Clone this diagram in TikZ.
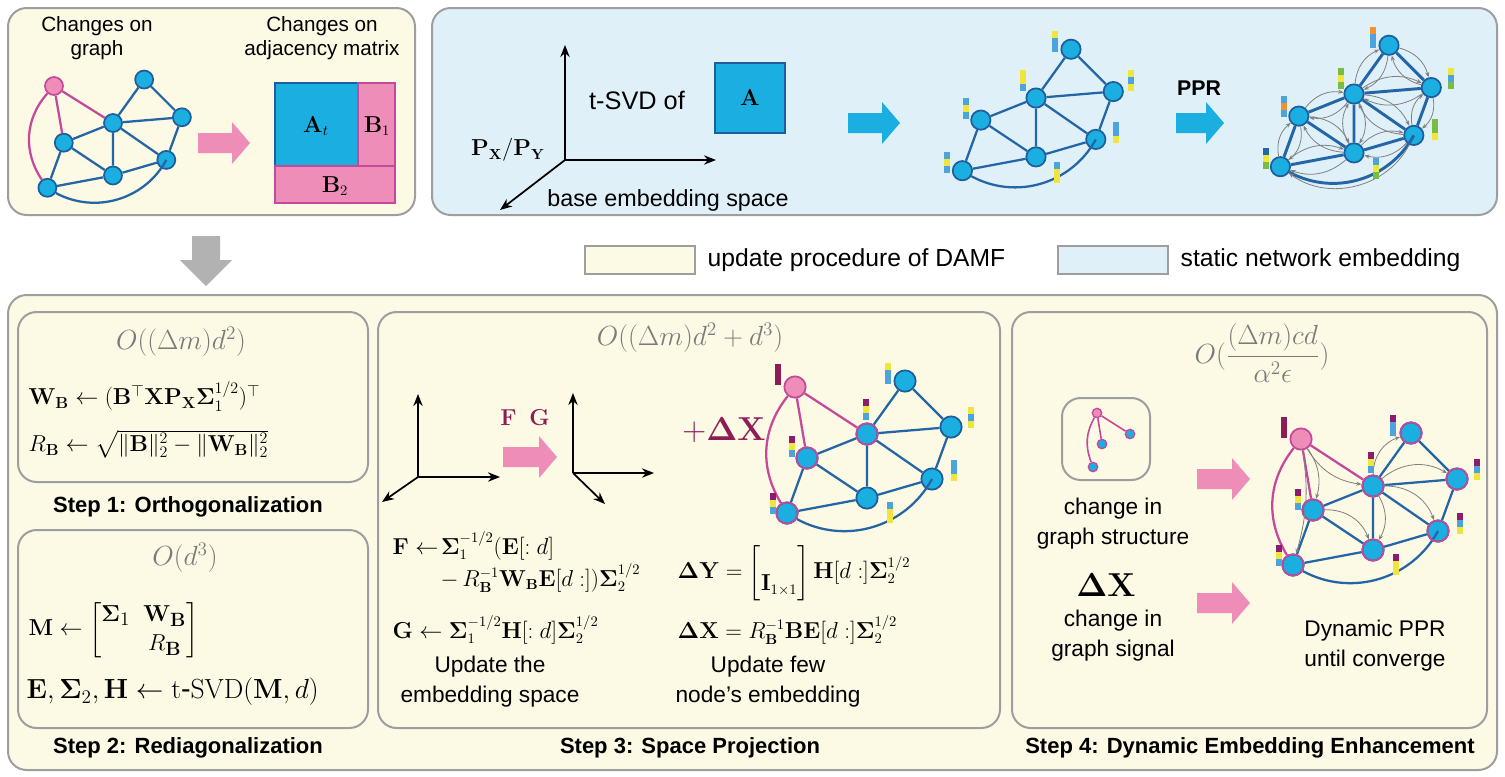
\documentclass[tikz,border=0pt]{standalone}
\usepackage{amsmath}
\usepackage[no-math]{fontspec}
\setmainfont{Liberation Sans}
\usetikzlibrary{arrows.meta}
\definecolor{ybg}{HTML}{FCF9E4}
\definecolor{bbg}{HTML}{DFF0F9}
\definecolor{bord}{HTML}{9E9E9E}
\definecolor{nodef}{HTML}{1BAEE0}
\definecolor{nodeb}{HTML}{1E5E9C}
\definecolor{edgeb}{HTML}{2465A6}
\definecolor{pinkf}{HTML}{EE8DB8}
\definecolor{pinke}{HTML}{C5499A}
\definecolor{maroon}{HTML}{8C1D57}
\definecolor{Y}{HTML}{F1E43A}
\definecolor{B}{HTML}{4DA3DC}
\definecolor{O}{HTML}{F0922E}
\definecolor{G}{HTML}{79BC43}
\definecolor{D}{HTML}{1F67A8}
\definecolor{P}{HTML}{8C1D6E}
\definecolor{M}{HTML}{8C1D57}
\definecolor{cgray}{HTML}{7A7A7A}
\def\gsize{15pt}
\tikzset{
 panel/.style={draw=bord,line width=1.5pt,rounded corners=14pt},
 gn/.style={circle,draw=nodeb,fill=nodef,line width=1.3pt,inner sep=0pt,minimum size=\gsize},
 pn/.style={circle,draw=pinke,fill=pinkf,line width=1.3pt,inner sep=0pt,minimum size=\gsize},
 ring/.style={circle,draw=pinke,line width=1.3pt,inner sep=0pt,minimum size=\gsize},
 ge/.style={draw=edgeb,line width=1.7pt},
 pe/.style={draw=pinke,line width=1.7pt},
 ga/.style={draw=gray,line width=0.6pt,-{Stealth[length=4pt,width=3pt]}},
 ax/.style={line width=1.3pt,-{Stealth[length=9pt,width=7pt]}},
 sf/.style={font=\fontsize{15.5}{18}\selectfont,align=center},
 lf/.style={font=\fontsize{17}{22.5}\selectfont,align=center},
 stp/.style={font=\bfseries\fontsize{16.5}{19}\selectfont},
 cx/.style={text=cgray,font=\fontsize{20}{24}\selectfont},
 basegraph/.pic={
  \node[gn] (-top) at (38,-53) {};
  \node[gn] (-right) at (84,-7) {};
  \node[gn] (-hub) at (0,0) {};
  \node[gn] (-left) at (-60,24) {};
  \node[gn] (-rl) at (65,45) {};
  \node[gn] (-bm) at (0,64) {};
  \node[gn] (-bl) at (-80,79) {};
  \draw[ge] (-top)--(-hub) (-top)--(-right) (-hub)--(-right) (-hub)--(-left)
   (-hub)--(-bm) (-hub)--(-rl) (-right)--(-rl) (-left)--(-bm) (-left)--(-bl)
   (-bm)--(-bl) (-bm)--(-rl);
  \draw[ge] (-bl) to[bend right=45] (-rl);
 }
}
\newcommand\ebar[4]{\fill[#2] #1 rectangle ++(6,7);\fill[#3] #1 ++(0,7) rectangle ++(6,7);\fill[#4] #1 ++(0,14) rectangle ++(6,7);}
\newcommand\blockarr[4]{\fill[#4] (#1,#3-10) -- (#2-18,#3-10) -- (#2-18,#3-21) -- (#2,#3) -- (#2-18,#3+21) -- (#2-18,#3+10) -- (#1,#3+10) -- cycle;}
\begin{document}
\begin{tikzpicture}[x=0.75pt,y=-0.75pt]
\useasboundingbox (0,0) rectangle (1505,776);
% panels
\draw[panel,fill=ybg] (8,8) rectangle (415,215);
\draw[panel,fill=bbg] (432,8) rectangle (1497,215);
\draw[panel,fill=ybg] (8,295) rectangle (1497,770);
\draw[panel,fill=ybg] (18,312) rectangle (368,482);
\draw[panel,fill=ybg] (18,530) rectangle (368,728);
\draw[panel,fill=ybg] (378,312) rectangle (1000,728);
\draw[panel,fill=ybg] (1012,312) rectangle (1487,728);
% legend
\draw[bord,line width=1.5pt,fill=ybg] (585,246) rectangle (695,274);
\node[anchor=west,font=\fontsize{18.5}{21}\selectfont] (lg1) at (703,260) {update procedure of DAMF};
\draw[bord,line width=1.5pt,fill=bbg] (1058,246) rectangle (1168,274);
\node[anchor=west,font=\fontsize{18.5}{21}\selectfont] (lg2) at (1176,260) {static network embedding};
% gray down arrow
\fill[gray!60] (192,236) -- (220,236) -- (220,260) -- (232,260) -- (206,286) -- (180,260) -- (192,260) -- cycle;

% ---------- top-left
\node[sf] (t1) at (97,38) {Changes on\\graph};
\node[sf] (t2) at (322,38) {Changes on\\adjacency matrix};
\def\gsize{13.5pt}
\pic[scale=0.82] (ga) at (113,123) {basegraph};
\node[pn] (ga-pink) at (54,86) {};
\draw[pe] (ga-pink)--(ga-hub) (ga-pink)--(ga-left);
\draw[pe] (ga-pink) to[bend right=38] (ga-bl);
\blockarr{198}{250}{143}{pinkf}
\draw[nodeb,line width=1pt,fill=nodef] (275,83) rectangle (358,166);
\draw[pinke,line width=1pt,fill=pinkf] (358,83) rectangle (395,166);
\draw[pinke,line width=1pt,fill=pinkf] (275,166) rectangle (395,203);
\node[font=\fontsize{16}{18}\selectfont] (mAt) at (316,126) {$\mathbf{A}_t$};
\node[font=\fontsize{16}{18}\selectfont] (mB1) at (377,126) {$\mathbf{B}_1$};
\node[font=\fontsize{16}{18}\selectfont] (mB2) at (335,186) {$\mathbf{B}_2$};

% ---------- top-right
\coordinate (o1) at (565,160);
\draw[ax] (o1) -- (565,45);
\draw[ax] (o1) -- (716,160);
\draw[ax] (o1) -- (500,210);
\node[font=\fontsize{16}{18}\selectfont] (pxy) at (508,150) {$\mathbf{P_X}/\mathbf{P_Y}$};
\node[font=\fontsize{19}{22}\selectfont] (tsvd) at (637,100) {t-SVD of};
\draw[nodeb,line width=1pt,fill=nodef] (715,63) rectangle (785,133);
\node[font=\fontsize{16}{18}\selectfont] (mA) at (750,98) {$\mathbf{A}$};
\node[font=\fontsize{17.5}{20}\selectfont] (bes) at (668,200) {base embedding space};
\blockarr{848}{900}{123}{nodef}
\def\gsize{14.5pt}
\pic[scale=0.92] (gs) at (1036,98) {basegraph};
\ebar{(1052,31)}{Y}{B}{B}
\ebar{(1020,70)}{Y}{Y}{B}
\ebar{(1128,70)}{Y}{B}{Y}
\ebar{(963,98)}{B}{Y}{B}
\ebar{(1113,122)}{B}{B}{Y}
\ebar{(944,152)}{B}{Y}{B}
\ebar{(1054,162)}{B}{Y}{Y}
\node[font=\bfseries\fontsize{16}{18}\selectfont] (ppr) at (1199,88) {PPR};
\blockarr{1176}{1224}{123}{nodef}
\tikzset{ge/.style={draw=edgeb,line width=2.2pt}}
\pic[scale=0.92] (gp) at (1354,94) {basegraph};
\tikzset{ge/.style={draw=edgeb,line width=1.7pt}}
\foreach \a/\b in {top/hub,top/right,hub/right,hub/left,hub/bm,hub/rl,right/rl,left/bm,left/bl,bm/bl,bm/rl}{
 \draw[ga] (gp-\a) to[bend left=30] (gp-\b);
 \draw[ga] (gp-\b) to[bend left=30] (gp-\a);
}
\draw[ga] (gp-rl) to[bend left=50] (gp-bl);
\ebar{(1370,27)}{O}{B}{B}
\ebar{(1338,68)}{G}{Y}{G}
\ebar{(1448,68)}{Y}{B}{G}
\ebar{(1281,96)}{B}{O}{B}
\ebar{(1432,119)}{G}{G}{Y}
\ebar{(1263,148)}{D}{Y}{G}
\ebar{(1373,158)}{B}{Y}{G}

% ---------- Step 1
\node[cx] (c1) at (181,342) {$O((\Delta m)d^2)$};
\node[anchor=west,font=\fontsize{18}{21}\selectfont] (e1) at (24,396) {$\mathbf{W_B}\leftarrow(\mathbf{B}^{\top}\mathbf{X}\mathbf{P_X}\mathbf{\Sigma}_1^{1/2})^{\top}$};
\node[anchor=west,font=\fontsize{18}{21}\selectfont] (e2) at (24,444) {$R_{\mathbf{B}}\leftarrow\sqrt{\|\mathbf{B}\|_2^2-\|\mathbf{W_B}\|_2^2}$};
\node[stp] (s1) at (188,507) {Step 1: Orthogonalization};
% ---------- Step 2
\node[cx] (c2) at (185,558) {$O(d^3)$};
\node[anchor=west,font=\fontsize{19}{22}\selectfont] (e3) at (24,630) {$\mathbf{M}\leftarrow\begin{bmatrix}\mathbf{\Sigma}_1 & \mathbf{W_B}\\ & R_{\mathbf{B}}\end{bmatrix}$};
\node[anchor=west,font=\fontsize{21.5}{24}\selectfont] (e4) at (22,692) {$\mathbf{E},\mathbf{\Sigma}_2,\mathbf{H}\leftarrow\mathrm{t\text{-}SVD}(\mathbf{M},d)$};
\node[stp] (s2) at (188,748) {Step 2: Rediagonalization};
% ---------- Step 3
\node[cx] (c3) at (690,338) {$O((\Delta m)d^2+d^3)$};
\coordinate (o2) at (418,477);
\draw[ax] (o2) -- (418,394);
\draw[ax] (o2) -- (500,477);
\draw[ax] (o2) -- (382,502);
\coordinate (o3) at (573,473);
\draw[ax] (o3) -- (573,393);
\draw[ax] (o3) -- (654,473);
\draw[ax] (o3) -- (605,504);
\blockarr{503}{557}{457}{pinkf}
\node[text=maroon,font=\fontsize{17}{20}\selectfont] (fg) at (525,418) {$\mathbf{F}\;\;\mathbf{G}$};
\node[text=maroon,font=\fontsize{23}{26}\selectfont] (dx) at (724,430) {$+\mathbf{\Delta X}$};
\def\gsize{16pt}
\pic (g3) at (867,434) {basegraph};
\node[pn] (g3-pink) at (795,387) {};
\draw[pe] (g3-pink)--(g3-hub) (g3-pink)--(g3-left);
\draw[pe] (g3-pink) to[bend right=35] (g3-bl);
\node[ring] (g3-r1) at (g3-hub) {};
\node[ring] (g3-r2) at (g3-left) {};
\node[ring] (g3-r3) at (g3-bl) {};
\ebar{(775,364)}{M}{M}{M}
\ebar{(885,363)}{Y}{B}{B}
\ebar{(863,399)}{P}{Y}{B}
\ebar{(968,407)}{Y}{B}{Y}
\ebar{(789,436)}{P}{Y}{B}
\ebar{(951,460)}{B}{B}{Y}
\ebar{(770,493)}{P}{Y}{B}
\ebar{(887,502)}{B}{Y}{Y}
\node[anchor=west,font=\fontsize{16}{19}\selectfont] (e5) at (388,546) {$\mathbf{F}\leftarrow\!\mathbf{\Sigma}_1^{-1/2}(\mathbf{E}[:d]$};
\node[anchor=west,font=\fontsize{16}{19}\selectfont] (e6) at (436,578) {$-\,R_{\mathbf{B}}^{-1}\mathbf{W_B}\mathbf{E}[d:])\mathbf{\Sigma}_2^{1/2}$};
\node[anchor=west,font=\fontsize{16}{19}\selectfont] (e7) at (388,630) {$\mathbf{G}\leftarrow\mathbf{\Sigma}_1^{-1/2}\mathbf{H}[:d]\mathbf{\Sigma}_2^{1/2}$};
\node[lf] (u1) at (490,682) {Update the\\embedding space};
\node[anchor=west,font=\fontsize{16}{19}\selectfont] (e8) at (673,573) {$\mathbf{\Delta Y}=\begin{bmatrix}\vphantom{\mathbf{I}}\\ \mathbf{I}_{1\times1}\end{bmatrix}\mathbf{H}[d:]\mathbf{\Sigma}_2^{1/2}$};
\node[anchor=west,font=\fontsize{16}{19}\selectfont] (e9) at (673,630) {$\mathbf{\Delta X}=R_{\mathbf{B}}^{-1}\mathbf{B}\mathbf{E}[d:]\mathbf{\Sigma}_2^{1/2}$};
\node[lf] (u2) at (768,682) {Update few\\node’s embedding};
\node[stp] (s3) at (690,748) {Step 3: Space Projection};
% ---------- Step 4
\node[cx] (c4) at (1262,353) {$O(\dfrac{(\Delta m)cd}{\alpha^2\epsilon})$};
\draw[panel,fill=ybg] (1062,398) rectangle (1150,480);
\node[circle,draw=pinke,fill=pinkf,line width=1pt,inner sep=0pt,minimum size=7pt] (m0) at (1097,413) {};
\node[circle,draw=pinke,fill=nodef,line width=1pt,inner sep=0pt,minimum size=7pt] (m1) at (1130,434) {};
\node[circle,draw=pinke,fill=nodef,line width=1pt,inner sep=0pt,minimum size=7pt] (m2) at (1102,444) {};
\node[circle,draw=pinke,fill=nodef,line width=1pt,inner sep=0pt,minimum size=7pt] (m3) at (1093,467) {};
\draw[pinke,line width=1.2pt] (m0)--(m1) (m0)--(m2);
\draw[pinke,line width=1.2pt] (m0) to[bend right=25] (m3);
\node[lf] (cs) at (1113,524) {change in\\graph structure};
\node[font=\fontsize{29}{31}\selectfont] (dx2) at (1106,585) {$\mathbf{\Delta X}$};
\node[lf] (cg) at (1113,636) {change in\\graph signal};
\blockarr{1197}{1250}{479}{pinkf}
\blockarr{1197}{1250}{603}{pinkf}
\pic (g4) at (1373,486) {basegraph};
\node[pn] (g4-pink) at (1301,439) {};
\draw[pe] (g4-pink)--(g4-hub) (g4-pink)--(g4-left);
\draw[pe] (g4-pink) to[bend right=35] (g4-bl);
\foreach \n in {top,right,hub,left,rl,bm,bl}{\node[ring] (g4-r\n) at (g4-\n) {};}
\draw[ga] (g4-pink) to[bend left=25] (g4-left);
\draw[ga] (g4-pink) to[bend left=12] (g4-bl);
\draw[ga] (g4-pink) to[bend right=25] (g4-hub);
\draw[ga] (g4-hub) to[bend left=35] (g4-top);
\draw[ga] (g4-hub) to[bend left=35] (g4-right);
\draw[ga] (g4-hub) to[bend left=35] (g4-rl);
\draw[ga] (g4-hub) to[bend left=30] (g4-bm);
\draw[ga] (g4-left) to[bend left=35] (g4-bm);
\ebar{(1281,417)}{M}{M}{M}
\ebar{(1390,415)}{P}{B}{B}
\ebar{(1368,452)}{P}{Y}{B}
\ebar{(1474,459)}{P}{B}{Y}
\ebar{(1295,489)}{P}{Y}{B}
\ebar{(1457,513)}{P}{B}{Y}
\ebar{(1276,545)}{P}{Y}{B}
\ebar{(1393,554)}{P}{Y}{Y}
\node[lf] (dp) at (1375,646) {Dynamic PPR\\until converge};
\node[stp] (s4) at (1250,748) {Step 4: Dynamic Embedding Enhancement};
\end{tikzpicture}
\end{document}
